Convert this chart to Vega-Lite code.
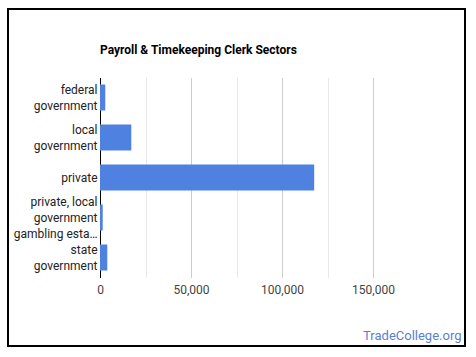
{
  "$schema": "https://vega.github.io/schema/vega-lite/v6.json",
  "width": 457,
  "height": 337,
  "autosize": {"type": "none"},
  "padding": {"left": 8, "top": 9, "right": 11, "bottom": 11},
  "background": "white",
  "config": {
    "view": {"stroke": "#000000", "strokeWidth": 2},
    "font": "Roboto"
  },
  "title": {
    "text": "Payroll & Timekeeping Clerk Sectors",
    "anchor": "start",
    "frame": "group",
    "orient": "top",
    "offset": 0,
    "dx": 92,
    "dy": 57,
    "baseline": "alphabetic",
    "font": "Roboto",
    "fontSize": 12,
    "fontWeight": "bold",
    "color": "#000000"
  },
  "data": {
    "values": [
      {"sector": "federal government", "workers": 2900},
      {"sector": "local government", "workers": 17200},
      {"sector": "private", "workers": 117700},
      {"sector": "private, local government gambling establishments", "workers": 1500},
      {"sector": "state government", "workers": 4000}
    ]
  },
  "mark": {"type": "bar", "color": "#4f81e0"},
  "encoding": {
    "y": {
      "field": "sector",
      "type": "nominal",
      "sort": null,
      "scale": {"range": [68.5, 268.5], "paddingInner": 0.35, "paddingOuter": 0.175},
      "axis": {
        "title": null,
        "offset": -92,
        "domainColor": "#000000",
        "domainWidth": 1,
        "ticks": false,
        "grid": false,
        "labelPadding": 3,
        "labelFont": "Roboto",
        "labelFontSize": 12,
        "labelColor": "#222222",
        "labelLineHeight": 16,
        "labelLimit": 200,
        "labelBaseline": "middle",
        "labelOffset": {"condition": [{"test": "datum.value == 'private'", "value": 0}, {"test": "indexof(datum.value, 'gambling') >= 0", "value": -16}], "value": -8},
        "labelExpr": "datum.value == 'federal government' ? ['federal', 'government'] : datum.value == 'local government' ? ['local', 'government'] : datum.value == 'state government' ? ['state', 'government'] : datum.value == 'private' ? 'private' : ['private, local', 'government', 'gambling esta…']"
      }
    },
    "x": {
      "field": "workers",
      "type": "quantitative",
      "scale": {"domain": [0, 150000], "range": [92, 365], "nice": false, "zero": true},
      "axis": {
        "orient": "bottom",
        "offset": -70,
        "values": [0, 25000, 50000, 75000, 100000, 125000, 150000],
        "format": ",d",
        "labelExpr": "datum.value % 50000 === 0 ? datum.label : ''",
        "labelFlush": false,
        "domain": false,
        "ticks": false,
        "grid": true,
        "gridColor": {"condition": {"test": "datum.value % 50000 === 0", "value": "#cccccc"}, "value": "#e8e8e8"},
        "gridWidth": 1,
        "labelFont": "Roboto",
        "labelFontSize": 12,
        "labelColor": "#444444",
        "labelPadding": 8,
        "labelOverlap": false,
        "title": "TradeCollege.org",
        "titleX": 453,
        "titleY": 59,
        "titleAlign": "right",
        "titleAnchor": null,
        "titleBaseline": "middle",
        "titleFont": "Roboto",
        "titleFontSize": 13,
        "titleFontWeight": "normal",
        "titleColor": "#5b7fd0"
      }
    }
  }
}
